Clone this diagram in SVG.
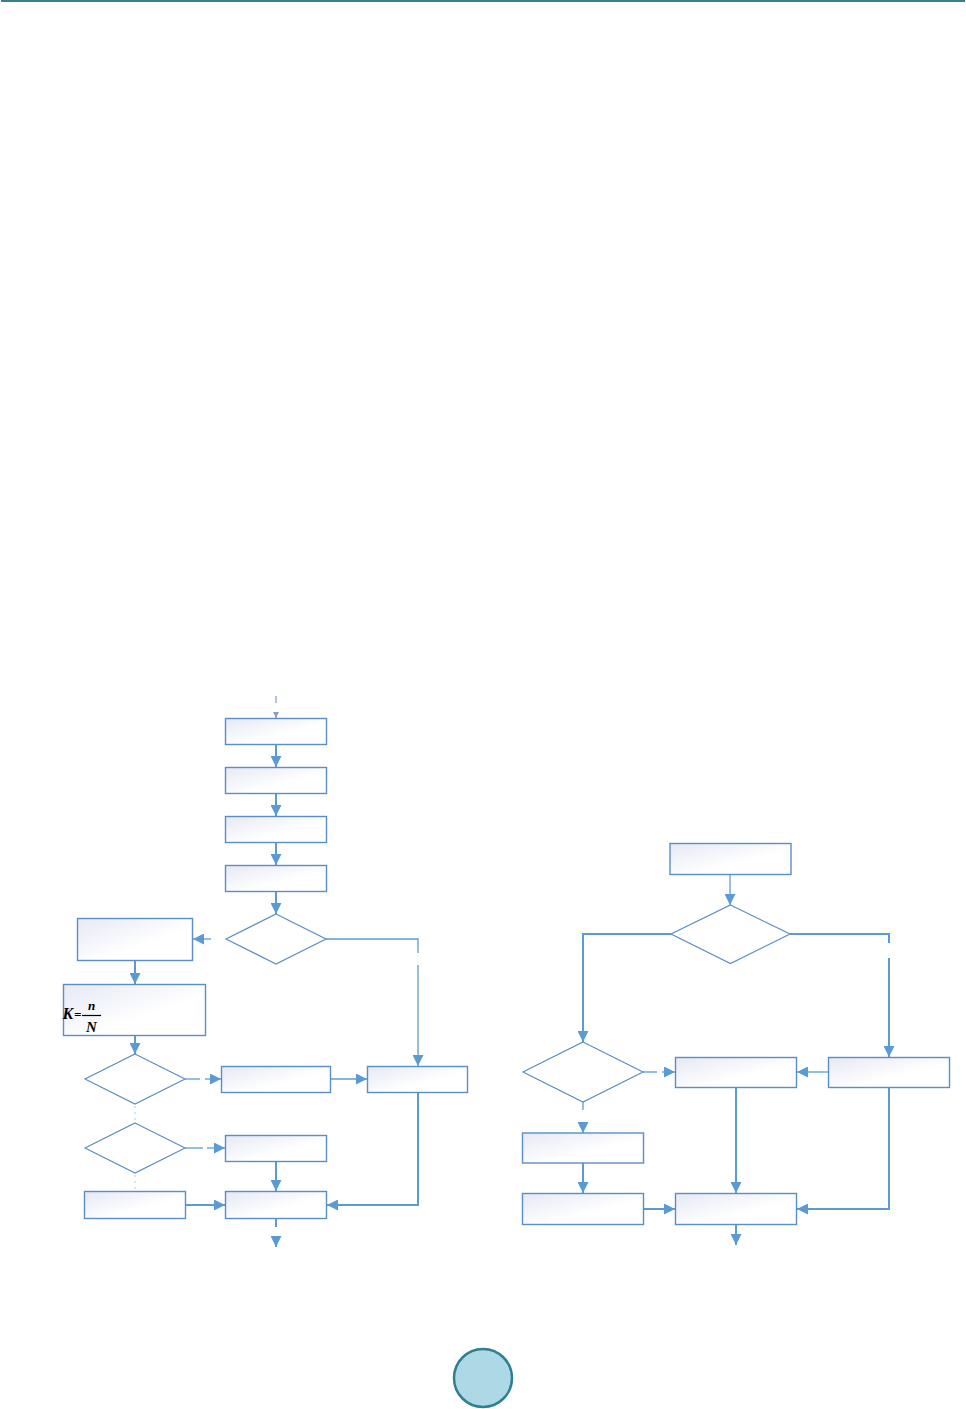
<svg xmlns="http://www.w3.org/2000/svg" width="966" height="1409" viewBox="0 0 966 1409">
<style>
.box{fill:url(#g);stroke:#5b8ec8;stroke-width:1.4}
.dia{fill:#ffffff;stroke:#5b8ec8;stroke-width:1.2}
.c{fill:none;stroke:#5b9bd5;stroke-width:2}
.t{fill:none;stroke:#5b9bd5;stroke-width:1.3}
.d{fill:none;stroke:#b5cbe6;stroke-width:1;stroke-dasharray:2,4}
.f{font-family:"Liberation Serif",serif;font-weight:bold;font-style:italic;fill:#000}
</style>
<defs>
<linearGradient id="g" x1="0" y1="0" x2="1" y2="1">
<stop offset="0" stop-color="#e6e9f4"/>
<stop offset="0.6" stop-color="#ffffff"/>
<stop offset="1" stop-color="#ffffff"/>
</linearGradient>
<marker id="a" viewBox="0 0 10 10" refX="10" refY="5" markerWidth="11" markerHeight="11" markerUnits="userSpaceOnUse" orient="auto">
<path d="M0,0 L10,5 L0,10 z" fill="#5b9bd5"/>
</marker>
<marker id="s" viewBox="0 0 10 10" refX="10" refY="5" markerWidth="6" markerHeight="6" markerUnits="userSpaceOnUse" orient="auto">
<path d="M0,0 L10,5 L0,10 z" fill="#8aa0bd"/>
</marker>
</defs>
<rect x="0" y="0" width="966" height="1409" fill="#ffffff"/>
<line x1="1" y1="1" x2="965" y2="1" stroke="#3b7e8a" stroke-width="2"/>

<g id="connectors">
<line x1="276" y1="696" x2="276" y2="703" stroke="#8aa0bd" stroke-width="1.3"/>
<line x1="276" y1="712" x2="276" y2="718" class="t" stroke="#8aa0bd" marker-end="url(#s)"/>
<line x1="276" y1="744" x2="276" y2="767" class="c" marker-end="url(#a)"/>
<line x1="276" y1="793" x2="276" y2="816" class="c" marker-end="url(#a)"/>
<line x1="276" y1="842" x2="276" y2="865" class="c" marker-end="url(#a)"/>
<line x1="276" y1="891" x2="276" y2="914" class="c" marker-end="url(#a)"/>
<line x1="211" y1="939" x2="193" y2="939" class="t" marker-end="url(#a)"/>
<polyline points="326,939 418,939 418,953" class="t"/>
<line x1="418" y1="965" x2="418" y2="1066" class="t" marker-end="url(#a)"/>
<line x1="135" y1="960" x2="135" y2="984" class="c" marker-end="url(#a)"/>
<line x1="135" y1="1035" x2="135" y2="1054" class="c" marker-end="url(#a)"/>
<line x1="185" y1="1079" x2="200" y2="1079" class="t"/>
<line x1="205" y1="1079" x2="221" y2="1079" class="t" marker-end="url(#a)"/>
<line x1="330" y1="1079" x2="367" y2="1079" class="t" marker-end="url(#a)"/>
<polyline points="418,1092 418,1205 327,1205" class="c" marker-end="url(#a)"/>
<line x1="135" y1="1106" x2="135" y2="1121" class="d"/>
<line x1="185" y1="1148" x2="203" y2="1148" class="t"/>
<line x1="207" y1="1148" x2="225" y2="1148" class="t" marker-end="url(#a)"/>
<line x1="276" y1="1161" x2="276" y2="1191" class="c" marker-end="url(#a)"/>
<line x1="135" y1="1175" x2="135" y2="1189" class="d"/>
<line x1="186" y1="1205" x2="225" y2="1205" class="c" marker-end="url(#a)"/>
<line x1="276" y1="1219" x2="276" y2="1227" class="c"/>
<line x1="276" y1="1237" x2="276" y2="1247" class="c" marker-end="url(#a)"/>

<line x1="730" y1="874" x2="730" y2="905" class="t" marker-end="url(#a)"/>
<polyline points="671,934 583,934 583,1042" class="c" marker-end="url(#a)"/>
<polyline points="790,934 889,934 889,943" class="c"/>
<line x1="889" y1="958" x2="889" y2="1057" class="c" marker-end="url(#a)"/>
<line x1="828" y1="1072" x2="797" y2="1072" class="t" marker-end="url(#a)"/>
<line x1="643" y1="1072" x2="657" y2="1072" class="t"/>
<line x1="662" y1="1072" x2="675" y2="1072" class="t" marker-end="url(#a)"/>
<line x1="583" y1="1102" x2="583" y2="1110" class="t"/>
<line x1="583" y1="1122" x2="583" y2="1133" class="t" marker-end="url(#a)"/>
<line x1="583" y1="1163" x2="583" y2="1193" class="c" marker-end="url(#a)"/>
<line x1="644" y1="1209" x2="675" y2="1209" class="c" marker-end="url(#a)"/>
<line x1="736" y1="1087" x2="736" y2="1193" class="c" marker-end="url(#a)"/>
<polyline points="889,1087 889,1209 797,1209" class="c" marker-end="url(#a)"/>
<line x1="736" y1="1224" x2="736" y2="1245" class="c" marker-end="url(#a)"/>
</g>

<g id="L1"><rect class="box" x="225.5" y="718.5" width="101" height="26"/></g>
<g id="L2"><rect class="box" x="225.5" y="767.5" width="101" height="26"/></g>
<g id="L3"><rect class="box" x="225.5" y="816.5" width="101" height="26"/></g>
<g id="L4"><rect class="box" x="225.5" y="865.5" width="101" height="26"/></g>
<g id="LD1"><polygon class="dia" points="276,914 326,939 276,964 226,939"/></g>
<g id="LL"><rect class="box" x="77.5" y="918.5" width="115" height="42"/></g>
<g id="LK"><rect class="box" x="63.5" y="984.5" width="142" height="51"/>
<text class="f" x="62.5" y="1019" font-size="16">K</text>
<text class="f" x="74" y="1019" font-size="13" font-style="normal">=</text>
<line x1="82" y1="1015.5" x2="101" y2="1015.5" stroke="#000" stroke-width="1.2"/>
<text class="f" x="88" y="1010" font-size="13">n</text>
<text class="f" x="86" y="1032" font-size="15">N</text>
</g>
<g id="LD2"><polygon class="dia" points="135,1054 185,1079 135,1104 85,1079"/></g>
<g id="LA"><rect class="box" x="221.5" y="1066.5" width="109" height="26"/></g>
<g id="LB"><rect class="box" x="367.5" y="1066.5" width="100" height="26"/></g>
<g id="LD3"><polygon class="dia" points="135,1123 185,1148 135,1173 85,1148"/></g>
<g id="LC"><rect class="box" x="225.5" y="1135.5" width="101" height="26"/></g>
<g id="LE"><rect class="box" x="84.5" y="1191.5" width="101" height="27"/></g>
<g id="LF"><rect class="box" x="225.5" y="1191.5" width="101" height="27"/></g>

<g id="R1"><rect class="box" x="670" y="843.5" width="121" height="31"/></g>
<g id="RD1"><polygon class="dia" points="730.5,905 790,934 730.5,963.5 671,934"/></g>
<g id="RD2"><polygon class="dia" points="583,1042 643,1072 583,1102 523,1072"/></g>
<g id="RM"><rect class="box" x="675.5" y="1057.5" width="121" height="30"/></g>
<g id="RR"><rect class="box" x="828.5" y="1057.5" width="121" height="30"/></g>
<g id="RL1"><rect class="box" x="522.5" y="1133" width="121" height="30"/></g>
<g id="RL2"><rect class="box" x="522.5" y="1193.5" width="121" height="31"/></g>
<g id="RB"><rect class="box" x="675.5" y="1193.5" width="121" height="31"/></g>

<circle cx="483" cy="1378" r="29" fill="#add8e6" stroke="#2f7f8f" stroke-width="2.5"/>
</svg>
